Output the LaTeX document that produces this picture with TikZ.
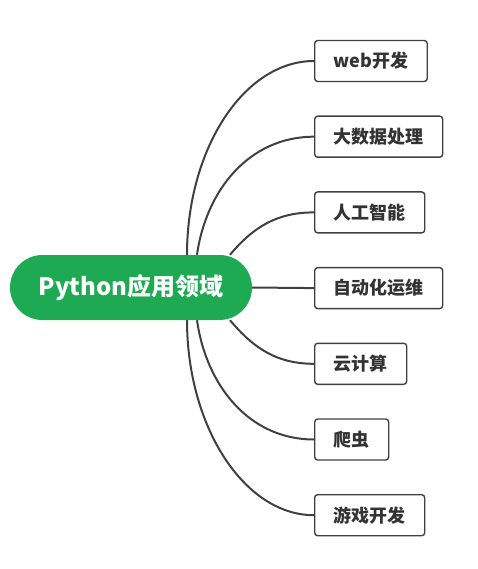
\documentclass[tikz,border=0pt]{standalone}
\usepackage{fontspec}
\setmainfont{Noto Sans CJK SC}
\usepackage{tikz}
\usetikzlibrary{positioning}
\definecolor{leaf}{RGB}{29,170,82}
\definecolor{ink}{RGB}{51,51,51}
\definecolor{wire}{RGB}{64,64,64}

\begin{document}
\begin{tikzpicture}[x=1pt, y=-1pt,
  root/.style={fill=leaf, text=white, rounded corners=32.5pt,
               minimum width=242pt, minimum height=65pt,
               font=\fontsize{24}{28}\selectfont\bfseries},
  item/.style={draw=wire, line width=1.4pt, rounded corners=3pt, text=ink,
               anchor=west, minimum height=41pt, inner xsep=19pt,
               font=\fontsize{18}{22}\selectfont\bfseries},
  link/.style={draw=wire, line width=2pt}
]
  \useasboundingbox (0,0) rectangle (478,569);
  \node[root] (py) at (131,287.5) {Python应用领域};
  \node[item] (web) at (314,61) {web开发};
  \node[item, below=33.3pt of web.south west, anchor=north west] (data) {大数据处理};
  \node[item, below=33.3pt of data.south west, anchor=north west] (ai) {人工智能};
  \node[item, below=33.3pt of ai.south west, anchor=north west] (ops) {自动化运维};
  \node[item, below=33.3pt of ops.south west, anchor=north west] (cloud) {云计算};
  \node[item, below=33.3pt of cloud.south west, anchor=north west] (crawl) {爬虫};
  \node[item, below=33.3pt of crawl.south west, anchor=north west] (game) {游戏开发};
  % outer pair: quarter ellipses
  \draw[link] ([xshift=56pt]py.north) .. controls +(0,-106) and +(-70,0) .. (web.west);
  \draw[link] ([xshift=56pt]py.south) .. controls +(0,106) and +(-70,0) .. (game.west);
  \draw[link] ([xshift=66pt]py.north) to[out=82, in=180] (data.west);
  \draw[link] ([xshift=99pt]py.north) to[out=50, in=180] (ai.west);
  \draw[link] (py.east) -- (ops.west);
  \draw[link] ([xshift=99pt]py.south) to[out=-50, in=180] (cloud.west);
  \draw[link] ([xshift=66pt]py.south) to[out=-82, in=180] (crawl.west);
\end{tikzpicture}
\end{document}
